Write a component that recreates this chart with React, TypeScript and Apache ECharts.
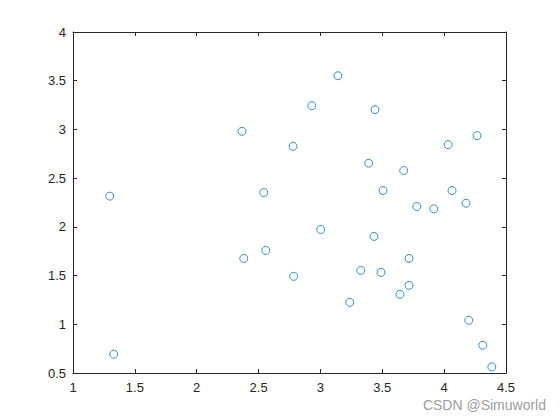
import React, { useEffect, useRef } from "react";
import * as echarts from "echarts";

const xValues = [1.297, 1.329, 2.366, 2.542, 2.380, 2.558, 2.779, 2.930, 3.142, 3.441, 3.390, 3.673, 3.506, 4.032, 4.266, 4.064, 4.177, 3.779, 3.916, 3.002, 3.433, 3.716, 3.326, 3.490, 2.784, 3.716, 3.643, 3.237, 4.199, 4.312, 4.385];
const yValues = [2.315, 0.693, 2.981, 2.352, 1.676, 1.758, 2.827, 3.244, 3.551, 3.203, 2.653, 2.578, 2.373, 2.844, 2.936, 2.373, 2.243, 2.209, 2.185, 1.973, 1.902, 1.676, 1.553, 1.533, 1.492, 1.400, 1.307, 1.225, 1.041, 0.785, 0.563];
const xTicks = [1, 1.5, 2, 2.5, 3, 3.5, 4, 4.5];
const yTicks = [0.5, 1, 1.5, 2, 2.5, 3, 3.5, 4];
const watermark = "CSDN @Simuworld";

export default function App() {
  const ref = useRef<HTMLDivElement>(null);
  useEffect(() => {
    if (!ref.current) return;
    const chart = echarts.init(ref.current, undefined, { renderer: "svg" });
    const axisColor = "#262626";
    const font = "Arial, 'Liberation Sans', Helvetica, sans-serif";
    const baseAxis = (min: number, max: number) => ({
      type: "value" as const,
      min,
      max,
      interval: 0.5,
      splitLine: { show: false },
      axisLine: { show: true, onZero: false, lineStyle: { color: axisColor, width: 1 } },
      axisTick: { show: true, inside: true, length: 4, lineStyle: { color: axisColor } },
    });
    const fmt = (v: number) => String(v);
    chart.setOption({
      animation: false,
      backgroundColor: "#ffffff",
      grid: { left: 73, top: 32, right: 54, bottom: 47, containLabel: false },
      xAxis: [
        {
          ...baseAxis(xTicks[0], xTicks[xTicks.length - 1]),
          position: "bottom",
          axisLabel: { show: true, color: axisColor, fontSize: 13, fontFamily: font, margin: 8, formatter: fmt },
        },
        {
          ...baseAxis(xTicks[0], xTicks[xTicks.length - 1]),
          position: "top",
          axisLabel: { show: false },
        },
      ],
      yAxis: [
        {
          ...baseAxis(yTicks[0], yTicks[yTicks.length - 1]),
          position: "left",
          axisLabel: { show: true, color: axisColor, fontSize: 13, fontFamily: font, margin: 7, formatter: fmt },
        },
        {
          ...baseAxis(yTicks[0], yTicks[yTicks.length - 1]),
          position: "right",
          axisLabel: { show: false },
        },
      ],
      graphic: [
        {
          type: "text",
          right: 14,
          bottom: 8,
          style: { text: watermark, fill: "rgba(130,130,130,0.8)", fontSize: 14, fontFamily: font },
        },
      ],
      series: [
        {
          type: "scatter",
          xAxisIndex: 0,
          yAxisIndex: 0,
          data: xValues.map((x, i) => [x, yValues[i]]),
          symbol: "circle",
          symbolSize: 8,
          itemStyle: { color: "rgba(0,0,0,0)", borderColor: "#0072BD", borderWidth: 1 },
        },
      ],
    });
    return () => chart.dispose();
  }, []);
  return <div ref={ref} style={{ width: 560, height: 420, position: "absolute", left: 0, top: 0 }} />;
}
